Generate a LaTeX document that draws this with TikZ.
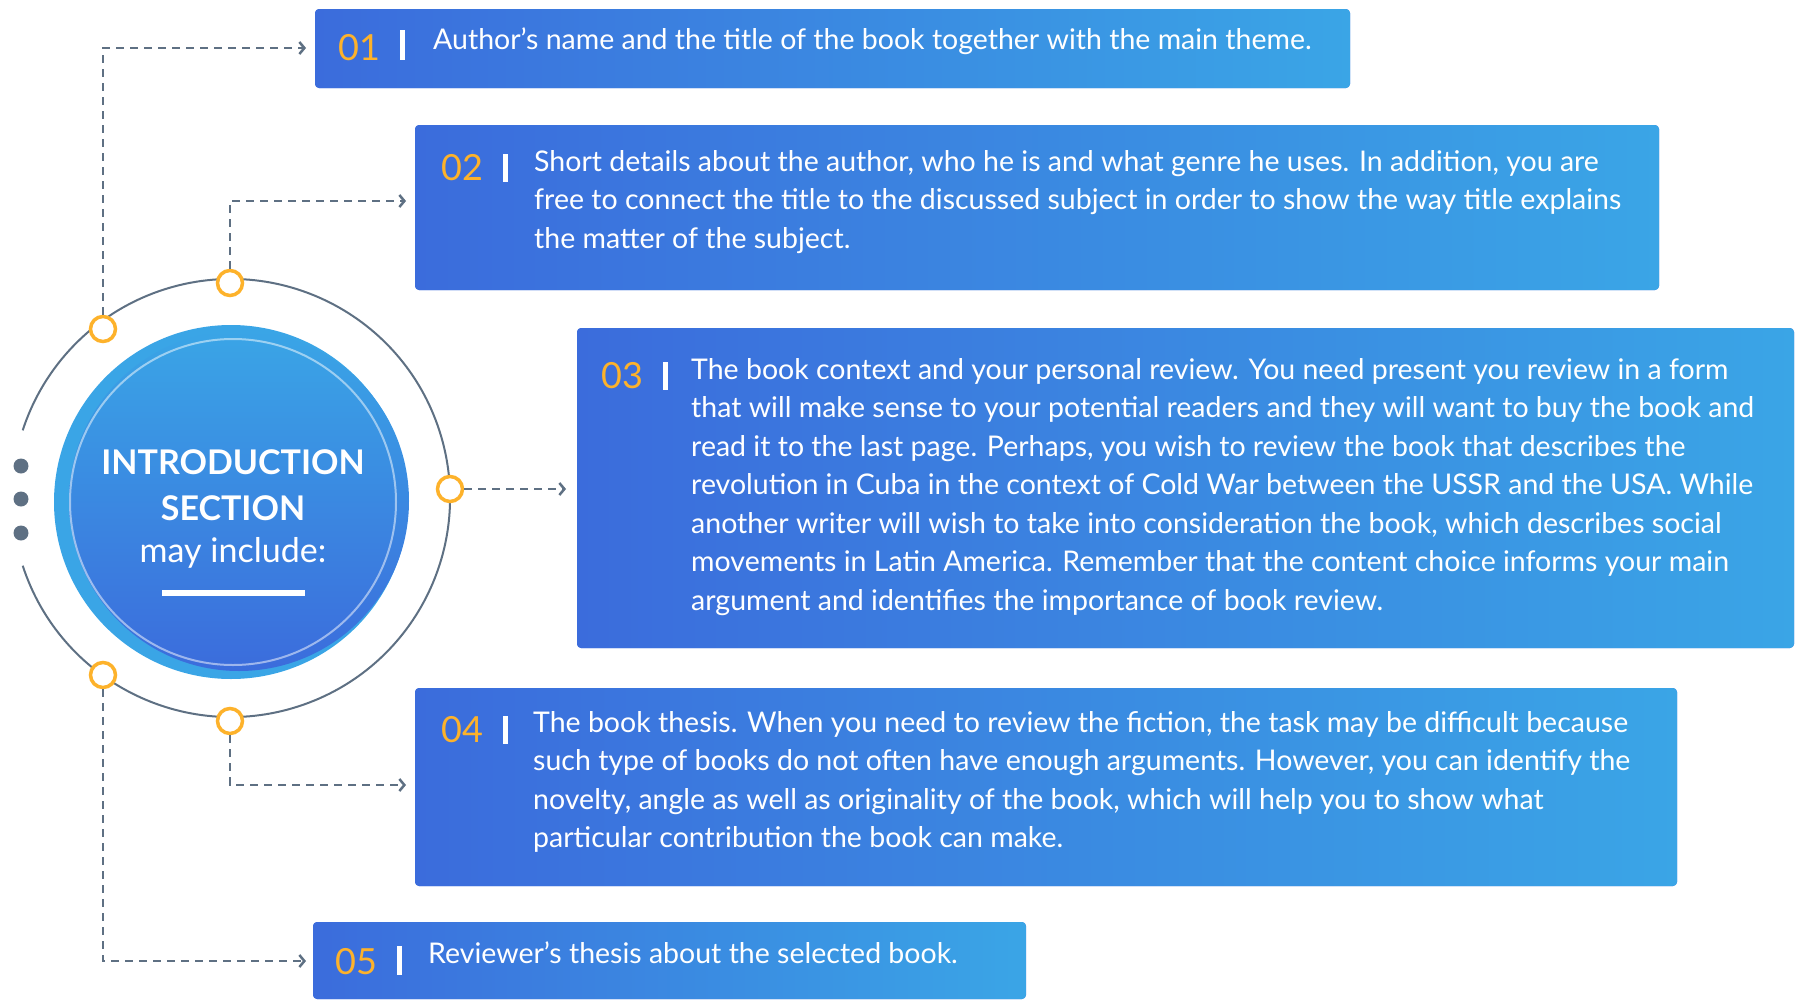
\documentclass[tikz,border=0pt]{standalone}
\usepackage{fontspec}
\setmainfont{Lato}
\usetikzlibrary{arrows.meta}
\definecolor{bL}{HTML}{3B6CDC}
\definecolor{bR}{HTML}{3AA5E6}
\definecolor{org}{HTML}{FDB22B}
\definecolor{gry}{HTML}{5E7083}
\tikzset{
 box/.style={fill=bL,left color=bL,right color=bR,rounded corners=4pt,draw=none},
 num/.style={anchor=base west,text=org,font=\fontsize{36}{36}\selectfont,inner sep=0},
 txt/.style={anchor=north west,text=white,align=left,inner sep=0,font=\fontsize{28.5}{38.5}\selectfont},
 bar/.style={fill=white,draw=none},
 conn/.style={draw=gry,line width=2.2pt,dash pattern=on 8pt off 6pt,-{Straight Barb[length=5pt,width=12pt,line width=2.5pt]}},
 knob/.style={circle,draw=org,line width=3.5pt,fill=white,minimum size=25pt,inner sep=0},
 dot/.style={circle,fill=gry,minimum size=15pt,inner sep=0}
}
\begin{document}
\begin{tikzpicture}[x=1pt,y=-1pt]
\useasboundingbox (0,0) rectangle (1800,1004);
% boxes
\path[box] (315,9) rectangle (1350,88);
\path[box] (415,125) rectangle (1659,290);
\path[box] (577,328) rectangle (1794,648);
\path[box] (415,688) rectangle (1677,886);
\path[box] (313,922) rectangle (1026,999);
% box contents
\node[num] (n1) at (338,60) {01}; \path[bar] (400,30) rectangle (405,60);
\node[txt] (t1) at (433,28) {Author's name and the title of the book together with the main theme.};
\node[num] (n2) at (441,180) {02}; \path[bar] (503,154) rectangle (508,182);
\node[txt] (t2) at (534,150) {Short details about the author, who he is and what genre he uses. In addition, you are\\free to connect the title to the discussed subject in order to show the way title explains\\the matter of the subject.};
\node[num] (n3) at (601,388) {03}; \path[bar] (663,362) rectangle (668,390);
\node[txt] (t3) at (691,358) {The book context and your personal review. You need present you review in a form\\that will make sense to your potential readers and they will want to buy the book and\\read it to the last page. Perhaps, you wish to review the book that describes the\\revolution in Cuba in the context of Cold War between the USSR and the USA. While\\another writer will wish to take into consideration the book, which describes social\\movements in Latin America. Remember that the content choice informs your main\\argument and identifies the importance of book review.};
\node[num] (n4) at (441,742) {04}; \path[bar] (503,716) rectangle (508,744);
\node[txt] (t4) at (533,711) {The book thesis. When you need to review the fiction, the task may be difficult because\\such type of books do not often have enough arguments. However, you can identify the\\novelty, angle as well as originality of the book, which will help you to show what\\particular contribution the book can make.};
\node[num] (n5) at (335,974) {05}; \path[bar] (397,946) rectangle (402,975);
\node[txt] (t5) at (428,942) {Reviewer's thesis about the selected book.};
% central circle
\fill[bR] (231,502) circle (177);
\shade[top color=bR,bottom color=bL,shading angle=0] (239,501) circle (170);
\draw[white,opacity=0.5,line width=2pt] (233,502) circle (163);
\node[text=white,align=center,font=\fontsize{34}{46}\selectfont\bfseries] (intro) at (233,485) {INTRODUCTION\\SECTION};
\node[text=white,font=\fontsize{34}{40}\selectfont] (may) at (233,553) {may include:};
\fill[white] (162,590) rectangle (305,596);
% outer ring
\draw[gry,line width=2pt] (231,498) ++(162:219) arc[start angle=162,end angle=-162,radius=219];
% dots
\node[dot] (d1) at (21,466) {}; \node[dot] (d2) at (21,499) {}; \node[dot] (d3) at (21,533) {};
% connectors
\coordinate (c1) at (103,48); \coordinate (c2) at (230,201); \coordinate (c4) at (230,785); \coordinate (c5) at (103,961);
\coordinate (e1) at (306,48); \coordinate (e2) at (406,201); \coordinate (e3) at (566,489); \coordinate (e4) at (406,785); \coordinate (e5) at (306,961);
\node[knob] (k1) at (103,329) {};
\node[knob] (k2) at (230,283) {};
\node[knob] (k3) at (450,489) {};
\node[knob] (k4) at (230,721) {};
\node[knob] (k5) at (103,675) {};
\draw[conn] (k1) -- (c1) -- (e1);
\draw[conn] (k2) -- (c2) -- (e2);
\draw[conn] (k3) -- (e3);
\draw[conn] (k4) -- (c4) -- (e4);
\draw[conn] (k5) -- (c5) -- (e5);
\end{tikzpicture}
\end{document}
